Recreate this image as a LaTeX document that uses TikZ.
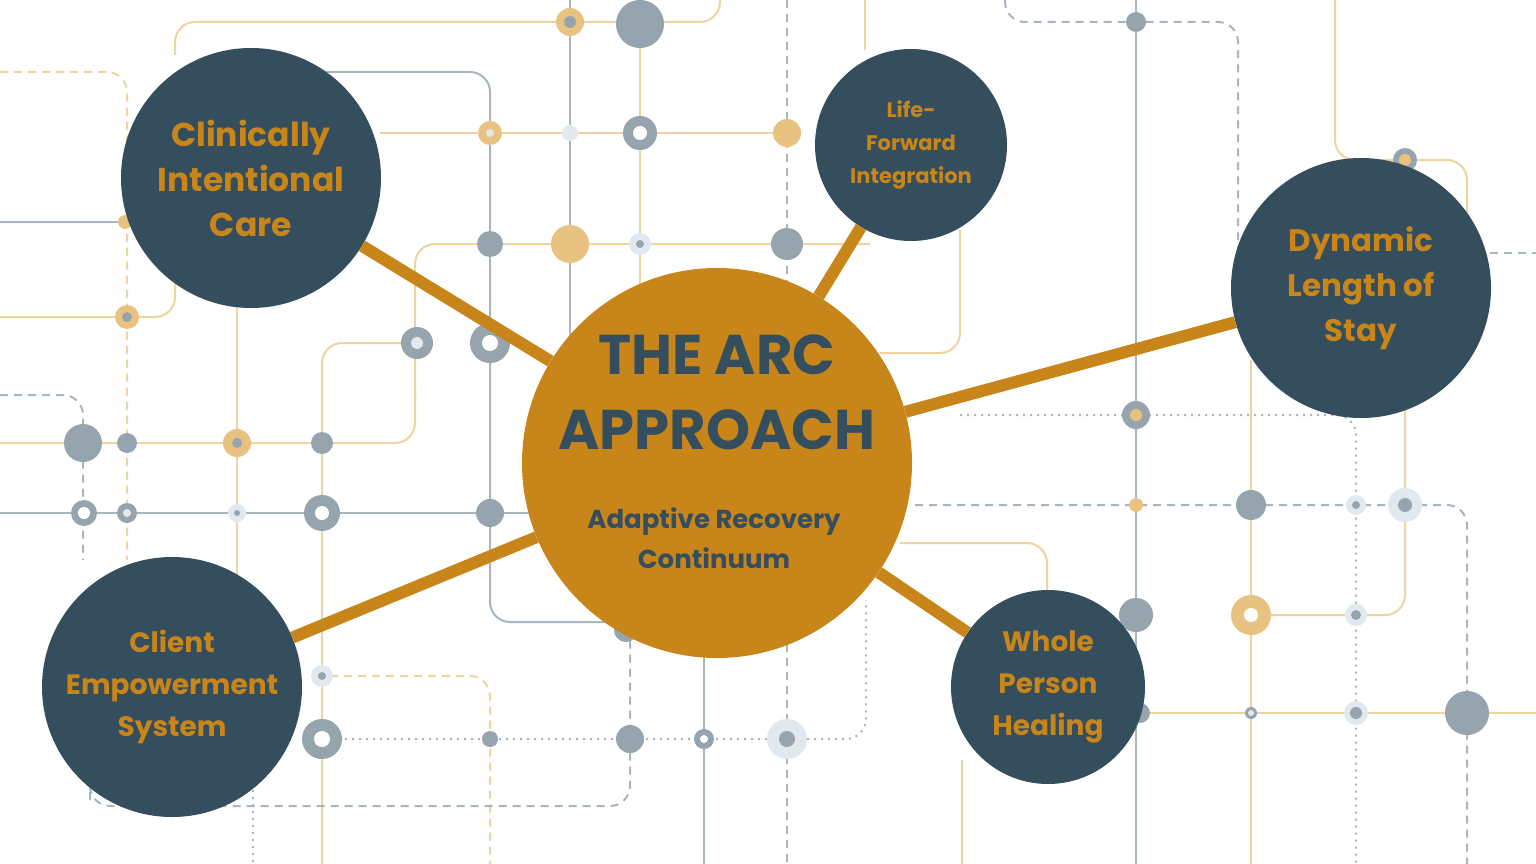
\documentclass[tikz,border=0pt]{standalone}
\usepackage{fontspec}
\setmainfont{Poppins}[BoldFont=* Bold]
\begin{document}
\begin{tikzpicture}[x=1pt,y=-1pt,
  tanl/.style={draw=tanc,line width=2pt},
  gryl/.style={draw=gryc,line width=2pt},
  dsh/.style={dash pattern=on 8pt off 6pt},
  dot/.style={dash pattern=on 2pt off 5pt},
  bignode/.style={circle,fill=navy,text=orng,font=\bfseries,align=center,inner sep=0pt},
  spoke/.style={draw=orng,line width=12pt}]
\definecolor{navy}{RGB}{52,78,94}
\definecolor{orng}{RGB}{200,134,26}
\definecolor{tanc}{RGB}{239,211,160}
\definecolor{gryc}{RGB}{170,182,190}
\definecolor{dotg}{RGB}{150,164,174}
\definecolor{dott}{RGB}{232,194,128}
\definecolor{lite}{RGB}{226,233,238}
\useasboundingbox[fill=white] (0,0) rectangle (1536,864);
\begin{scope}[rounded corners=20pt]
\draw[tanl] (175,55) -- (175,22) -- (720,22) -- (720,0);
\draw[gryl] (570,0) -- (570,340);
\draw[tanl] (640,0) -- (640,300);
\draw[tanl] (380,133) -- (800,133);
\draw[gryl] (320,72) -- (490,72) -- (490,622) -- (615,622);
\draw[tanl] (415,400) -- (415,244) -- (870,244);
\draw[tanl] (0,443) -- (415,443) -- (415,390);
\draw[gryl] (0,222) -- (125,222);
\draw[tanl,dsh] (0,72) -- (127,72) -- (127,560);
\draw[tanl] (0,317) -- (175,317) -- (175,280);
\draw[gryl,dsh] (0,395) -- (83,395) -- (83,560);
\draw[gryl] (0,513) -- (530,513);
\draw[tanl] (237,300) -- (237,600);
\draw[tanl] (322,864) -- (322,343) -- (415,343);
\draw[gryl,dsh] (787,0) -- (787,864);
\draw[gryl] (1136,0) -- (1136,864);
\draw[gryl,dsh] (1005,0) -- (1005,22) -- (1238,22) -- (1238,250);
\draw[tanl] (865,0) -- (865,50);
\draw[tanl] (960,230) -- (960,353) -- (880,353);
\draw[gryl,dot] (960,415) -- (1356,415) -- (1356,864);
\draw[gryl,dsh] (915,505) -- (1467,505) -- (1467,864);
\draw[tanl] (1251,360) -- (1251,864);
\draw[tanl] (1405,160) -- (1405,615) -- (1250,615);
\draw[tanl] (1335,0) -- (1335,160) -- (1467,160) -- (1467,250);
\draw[gryl,dsh] (1490,253) -- (1536,253);
\draw[tanl] (1140,713) -- (1536,713);
\draw[tanl] (900,543) -- (1047,543) -- (1047,600);
\draw[gryl,dot] (345,739) -- (866,739) -- (866,600);
\draw[tanl,dsh] (330,676) -- (490,676) -- (490,864);
\draw[gryl,dsh] (90,800) -- (90,806) -- (630,806) -- (630,640);
\draw[gryl] (704,650) -- (704,864);
\draw[gryl,dot] (253,790) -- (253,864);
\draw[tanl] (962,760) -- (962,864);
\end{scope}
\foreach \x/\y/\r/\c/\ir/\ic in {
570/22/14/dott/6/dotg, 640/24/24/dotg/0/white, 490/133/12/dott/4/lite,
570/133/8/lite/0/white, 640/133/17/dotg/7/white, 787/133/14/dott/0/white,
490/244/13/dotg/0/white, 570/244/19/dott/0/white, 640/244/11/lite/4/dotg,
787/244/16/dotg/0/white, 417/343/16/dotg/6/lite, 490/343/20/dotg/8/white,
127/317/12/dott/5/dotg, 125/222/7/dott/0/white, 83/443/19/dotg/0/white,
127/443/10/dotg/0/white, 237/443/14/dott/5/dotg, 322/443/11/dotg/0/white,
84/513/13/dotg/6/white, 127/513/10/dotg/4/lite, 237/513/9/lite/3/dotg,
322/513/18/dotg/7/white, 490/513/14/dotg/0/white, 322/676/11/lite/4/dotg,
322/739/20/dotg/8/white, 490/739/8/dotg/0/white, 630/739/14/dotg/0/white,
704/739/10/dotg/4/white, 787/739/20/lite/8/dotg, 626/630/12/dotg/0/white,
1136/22/10/dotg/0/white, 1405/160/12/dotg/6/dott, 1136/415/14/dotg/6/dott,
1136/505/7/dott/0/white, 1251/505/15/dotg/0/white, 1356/505/10/lite/4/dotg,
1405/505/17/lite/7/dotg, 1136/615/17/dotg/0/white, 1251/615/20/dott/7/white,
1356/615/11/lite/5/dotg, 1251/713/6/dotg/3/lite, 1356/713/12/lite/6/dotg,
1467/713/22/dotg/0/white, 1140/713/10/dotg/0/white}
{\fill[\c] (\x,\y) circle[radius=\r];
 \ifnum\ir>0 \fill[\ic] (\x,\y) circle[radius=\ir];\fi}
\node[circle,fill=orng,minimum size=390pt,inner sep=0pt] (ctr) at (717,463) {};
\node[bignode,minimum size=260pt,font=\bfseries\fontsize{33}{45}\selectfont] (cic) at (251,178) {Clinically\\Intentional\\Care};
\node[bignode,minimum size=192pt,font=\bfseries\fontsize{21}{33}\selectfont] (lfi) at (911,145) {Life-\\Forward\\Integration};
\node[bignode,minimum size=260pt,font=\bfseries\fontsize{31}{45}\selectfont] (dls) at (1361,288) {Dynamic\\Length of\\Stay};
\node[bignode,minimum size=260pt,font=\bfseries\fontsize{28}{42}\selectfont] (ces) at (172,687) {Client\\Empowerment\\System};
\node[bignode,minimum size=194pt,font=\bfseries\fontsize{28}{42}\selectfont] (wph) at (1048,687) {Whole\\Person\\Healing};
\foreach \n in {cic,lfi,dls,ces,wph} \draw[spoke] (ctr) -- (\n);
\node[text=navy,font=\bfseries\fontsize{56}{75}\selectfont,align=center] (ttl) at (717,392) {THE ARC\\APPROACH};
\node[text=navy,font=\bfseries\fontsize{26}{40}\selectfont,align=center] (sub) at (714,538) {Adaptive Recovery\\Continuum};
\end{tikzpicture}
\end{document}
